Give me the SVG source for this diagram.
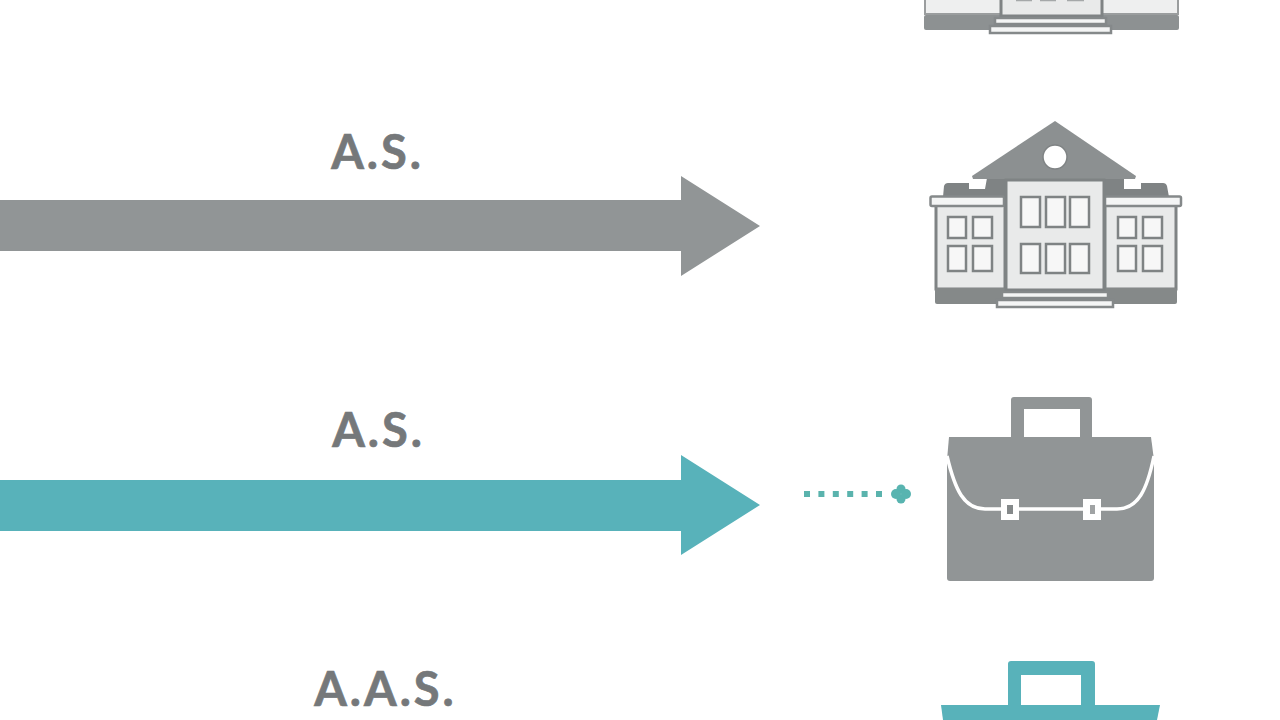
<svg xmlns="http://www.w3.org/2000/svg" width="1280" height="720" viewBox="0 0 1280 720">
<style>
.l{font-family:Lato,"Liberation Sans",sans-serif;font-weight:700;font-size:47px;fill:#75787a;stroke:#75787a;stroke-width:.7px;text-anchor:middle;letter-spacing:3px}
.g{fill:#919596}
.t{fill:#58b2ba}
.o{fill:#e9eaea;stroke:#7f8384;stroke-width:3}
.w{fill:#f7f7f7;stroke:#7f8384;stroke-width:2.5}
.c{fill:#f4f5f5;stroke:#85898a;stroke-width:2.5}
</style>
<rect width="1280" height="720" fill="#fff"/>
<g id="connectors">
<path class="g" d="M0 200H681V176L760 226L681 276V251H0Z"/>
<path class="t" d="M0 480H681V455L760 505L681 555V531H0Z"/>
<path d="M804 494H888" stroke="#5ab3ad" stroke-width="6" stroke-dasharray="6 8.4" fill="none"/>
<g fill="#58b4b0"><circle cx="901" cy="489" r="4.5"/><circle cx="901" cy="499" r="4.5"/><circle cx="896" cy="494" r="5"/><circle cx="906" cy="494" r="5"/></g>
</g>
<g id="label-1"><text class="l" x="377.500" y="169">A.S.</text></g>
<g id="label-2"><text class="l" x="378.500" y="447">A.S.</text></g>
<g id="label-3"><text class="l" x="385.500" y="706">A.A.S.</text></g>
<g id="building-top">
<rect x="925" y="-10" width="76" height="24" fill="#eeefef" stroke="#9a9d9e" stroke-width="2"/>
<rect x="1101" y="-10" width="77" height="24" fill="#eeefef" stroke="#9a9d9e" stroke-width="2"/>
<rect x="924" y="15" width="255" height="15" rx="2" fill="#8d9192"/>
<rect class="o" x="1001" y="-10" width="101" height="26"/>
<path d="M1016 0h16M1040 0h16M1067 0h17" stroke="#a5a8a9" stroke-width="2.5"/>
<rect class="c" x="995" y="18" width="111" height="6"/>
<rect class="c" x="990" y="26" width="121" height="7"/>
</g>
<g id="building-main">
<path d="M943 197L944 186Q945 183 948 183H969V189H985L987 178H1124L1124 189H1141V183H1163Q1166 183 1167 186L1169 197Z" fill="#7f8384"/>
<path d="M1055 121L1136 176L1135 179H973L972 176Z" fill="#8c9091"/>
<circle cx="1055" cy="157" r="12" fill="#fff" stroke="#7f8384" stroke-width="1.500"/>
<rect class="o" x="936" y="205" width="69" height="84"/>
<rect class="o" x="1105" y="205" width="71" height="84"/>
<rect x="935" y="288" width="71" height="16" rx="2" fill="#858989"/>
<rect x="1104" y="288" width="73" height="16" rx="2" fill="#858989"/>
<rect class="c" x="930.500" y="196.500" width="73.500" height="9.500" rx="1.500" stroke-width="3"/>
<rect class="c" x="1105" y="196.500" width="76" height="9.500" rx="1.500" stroke-width="3"/>
<rect class="o" x="1006" y="180" width="98" height="110"/>
<rect class="w" x="948" y="217" width="18" height="21"/>
<rect class="w" x="973" y="217" width="19" height="21"/>
<rect class="w" x="948" y="246" width="18" height="25"/>
<rect class="w" x="973" y="246" width="19" height="25"/>
<rect class="w" x="1118" y="217" width="18" height="21"/>
<rect class="w" x="1143" y="217" width="19" height="21"/>
<rect class="w" x="1118" y="246" width="18" height="25"/>
<rect class="w" x="1143" y="246" width="19" height="25"/>
<rect class="w" x="1021" y="197" width="19" height="30"/>
<rect class="w" x="1046" y="197" width="19" height="30"/>
<rect class="w" x="1070" y="197" width="19" height="30"/>
<rect class="w" x="1021" y="244" width="19" height="29"/>
<rect class="w" x="1046" y="244" width="19" height="29"/>
<rect class="w" x="1070" y="244" width="19" height="29"/>
<rect class="c" x="1002" y="292" width="106" height="6"/>
<rect class="c" x="997" y="300" width="116" height="7"/>
</g>
<g id="briefcase-gray">
<path class="g" fill-rule="evenodd" d="M1014 397H1089Q1092 397 1092 400V438H1011V400Q1011 397 1014 397ZM1024 409V438H1080V409Z"/>
<path class="g" d="M949 437H1151L1154 460V578Q1154 581 1151 581H950Q947 581 947 578V460Z"/>
<path d="M947 456C955 490 964 509 985 509H1117C1138 509 1147 490 1154 456" fill="none" stroke="#fff" stroke-width="3.500"/>
<rect x="1001" y="499" width="18" height="21" fill="#fff"/>
<rect x="1007" y="505" width="6" height="9" fill="#85898a"/>
<rect x="1083" y="499" width="18" height="21" fill="#fff"/>
<rect x="1090" y="505" width="5" height="9" fill="#a0a3a4"/>
</g>
<g id="briefcase-teal">
<path class="t" fill-rule="evenodd" d="M1011 661H1092Q1095 661 1095 664V706H1008V664Q1008 661 1011 661ZM1021 675V706H1081V675Z"/>
<path class="t" d="M941 705H1160L1157 720H943Z"/>
</g>
</svg>
